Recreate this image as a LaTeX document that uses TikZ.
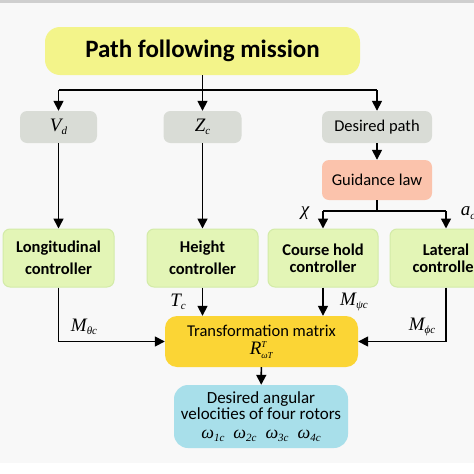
\documentclass[tikz,border=0pt]{standalone}
\usepackage{fontspec}
\setmainfont{Carlito}
\newfontfamily\tnr{Liberation Serif}
\usetikzlibrary{arrows.meta,positioning,calc}
\definecolor{bgc}{HTML}{F8F8F8}
\definecolor{topc}{HTML}{CFCFCF}
\definecolor{misc}{HTML}{F3F48A}
\definecolor{grayc}{HTML}{D9DCD6}
\definecolor{guidc}{HTML}{FBC3AC}
\definecolor{ctrlc}{HTML}{E3F5B6}
\definecolor{ctrlb}{HTML}{D3EBA8}
\definecolor{transc}{HTML}{FBD535}
\definecolor{outc}{HTML}{A8DFEA}
\newcommand\mi[1]{{\tnr\itshape #1}}
\newcommand\mv[2]{\mi{#1}\raisebox{-0.4ex}{\tnr\itshape\fontsize{11}{11}\selectfont #2}}
\begin{document}
\begin{tikzpicture}[x=1pt,y=-1pt,
  box/.style={rounded corners=7pt,inner sep=0pt,align=center,font=\fontsize{16.5}{17}\selectfont},
  ctrl/.style={box,fill=ctrlc,draw=ctrlb,line width=1pt,minimum width=111pt,minimum height=58pt,font=\fontsize{16.5}{17}\selectfont\bfseries},
  gbox/.style={box,fill=grayc,minimum height=32pt},
  arr/.style={-{Triangle[length=10pt,width=10pt]},line width=1.6pt},
  ln/.style={line width=1.6pt},
  lab/.style={inner sep=0pt,font=\fontsize{19}{19}\selectfont}]
\useasboundingbox (0,0) rectangle (474,474);
\clip (0,0) rectangle (474,474);
\fill[white] (0,0) rectangle (474,474);
\fill[bgc] (0,3) rectangle (474,463);
\fill[topc] (0,0) rectangle (474,3);
\node[box,fill=misc,rounded corners=15pt,minimum width=315pt,minimum height=48pt,font=\fontsize{25}{28}\selectfont\bfseries] (mis) at (202.5,51) {Path following mission};
\node[gbox,minimum width=77pt] (vd) at (58.5,127) {\fontsize{19}{19}\selectfont\mv{V}{d}};
\node[gbox,minimum width=78pt] (zc) at (202.5,127) {\fontsize{19}{19}\selectfont\mv{Z}{c}};
\node[gbox,minimum width=110pt] (dp) at (377,127) {Desired path};
\node[box,fill=guidc,minimum width=110pt,minimum height=40pt] (gl) at (377,180) {Guidance law};
\node[ctrl] (lon) at (58.5,258) {Longitudinal\\[5pt]controller};
\node[ctrl] (hgt) at (202.5,258) {Height\\[5pt]controller};
\node[ctrl,minimum width=110pt] (crs) at (323,258) {Course hold\\controller};
\node[ctrl,minimum width=112pt] (lat) at (446,258) {Lateral\\controller};
\node[box,fill=transc,rounded corners=12pt,minimum width=193pt,minimum height=51pt] (tm) at (261.5,341.5) {Transformation matrix\\[1pt]{\fontsize{19}{19}\selectfont$\hbox{\mi{R}}^{\hbox{\tnr\itshape\fontsize{9}{9}\selectfont T}}_{\hbox{\tnr\itshape\fontsize{9}{9}\selectfont ωT}}$}};
\node[box,fill=outc,rounded corners=14pt,minimum width=174pt,minimum height=63pt,font=\fontsize{17}{16.5}\selectfont] (out) at (261,416.5) {Desired angular\\velocities of four rotors\\[2pt]{\fontsize{18}{18}\selectfont\mv{ω}{1c}\hspace{9pt}\mv{ω}{2c}\hspace{9pt}\mv{ω}{3c}\hspace{9pt}\mv{ω}{4c}}};
% top split
\coordinate (sp) at (202.5,90);
\draw[arr] (mis) -- (zc);
\draw[ln] (vd.north |- sp) -- (dp.north |- sp);
\draw[arr] (vd.north |- sp) -- (vd.north);
\draw[arr] (dp.north |- sp) -- (dp.north);
\draw[arr] (vd) -- (lon);
\draw[arr] (zc) -- (hgt);
\draw[arr] (dp) -- (gl);
% guidance split
\coordinate (gs) at (377,211);
\draw[ln] (gl.south) -- (gs);
\draw[ln] (crs.north |- gs) -- (lat.north |- gs);
\draw[arr] (crs.north |- gs) -- (crs.north);
\draw[arr] (lat.north |- gs) -- (lat.north);
% to transformation
\draw[arr] (hgt.south) -- (hgt.south |- tm.north);
\draw[arr] (crs.south) -- (crs.south |- tm.north);
\draw[arr] (lon.south) |- (tm.west);
\draw[arr] (lat.south) |- (tm.east);
\draw[arr] (tm) -- (out);
% labels
\node[lab] (lchi) at (305,213) {\mi{χ}};
\node[lab] (lac) at (468,213) {\mv{a}{c}};
\node[lab] (ltc) at (178,302) {\mv{T}{c}};
\node[lab] (lmp) at (354,302) {\mv{M}{ψc}};
\node[lab] (lmt) at (84,327) {\mv{M}{θc}};
\node[lab] (lmf) at (422,327) {\mv{M}{ϕc}};
\end{tikzpicture}
\end{document}
